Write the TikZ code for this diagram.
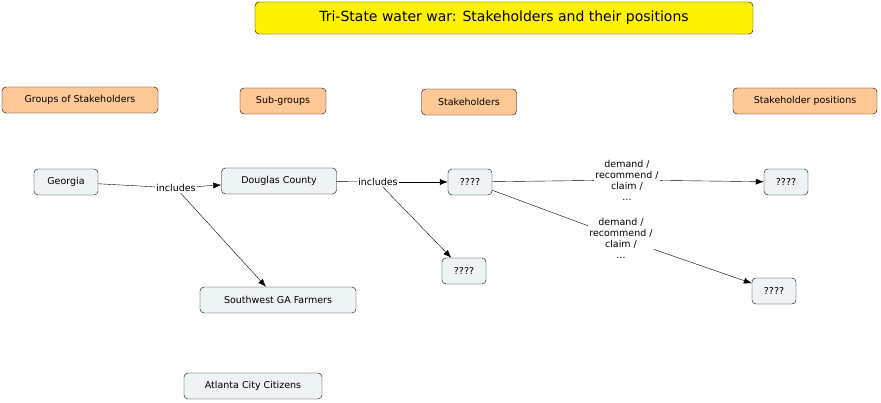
\documentclass[tikz,border=0pt]{standalone}
\usepackage{fontspec}
\setmainfont{DejaVu Sans}
\usetikzlibrary{arrows.meta}
\definecolor{hdr}{HTML}{FFC896}
\definecolor{cnode}{HTML}{EEF3F6}
\begin{document}
\begin{tikzpicture}[x=1pt,y=-1pt,
  box/.style={draw, rounded corners=4pt, inner sep=0pt, minimum height=26pt, font=\fontsize{9.5}{11}\selectfont},
  hbox/.style={box, fill=hdr},
  cbox/.style={box, fill=cnode},
  lab/.style={fill=white, inner sep=1pt, font=\fontsize{9.5}{11}\selectfont, align=center},
  arr/.style={-{Latex[length=8pt,width=6pt]}}]
\useasboundingbox (0,0) rectangle (881,402);
\node[box, fill=yellow, minimum width=498pt, minimum height=32pt, font=\fontsize{14}{16}\selectfont] (title) at (504,18) {Tri-State water war: Stakeholders and their positions};
\node[hbox, minimum width=156pt] (g) at (80,100) {Groups of Stakeholders};
\node[hbox, minimum width=86pt] (sg) at (283,101) {Sub-groups};
\node[hbox, minimum width=95pt] (st) at (469,102) {Stakeholders};
\node[hbox, minimum width=144pt] (sp) at (805,101) {Stakeholder positions};
\node[cbox, minimum width=64pt] (ga) at (66,182) {Georgia};
\node[cbox, minimum width=115pt] (dc) at (279,181) {Douglas County};
\node[cbox, minimum width=44pt] (q1) at (470,182) {????};
\node[cbox, minimum width=44pt] (q2) at (464,271) {????};
\node[cbox, minimum width=44pt] (q3) at (786,182) {????};
\node[cbox, minimum width=44pt] (q4) at (774,291) {????};
\node[cbox, minimum width=156pt] (sw) at (278,300) {Southwest GA Farmers};
\node[cbox, minimum width=138pt] (ac) at (253,386) {Atlanta City Citizens};
\node[lab] (i1) at (176,188) {includes};
\node[lab] (i2) at (378,182) {includes};
\node[lab] (d1) at (627,180) {demand /\\recommend /\\claim /\\...};
\node[lab] (d2) at (621,238) {demand /\\recommend /\\claim /\\...};
\draw (ga) -- (i1);
\draw[arr] (i1) -- (dc);
\draw[arr] (i1) -- (sw);
\draw (dc) -- (i2);
\draw[arr] (i2) -- (q1);
\draw[arr] (i2) -- (q2);
\draw (q1) -- (d1);
\draw[arr] (d1) -- (q3);
\draw (q1) -- (d2);
\draw[arr] (d2) -- (q4);
\end{tikzpicture}
\end{document}
